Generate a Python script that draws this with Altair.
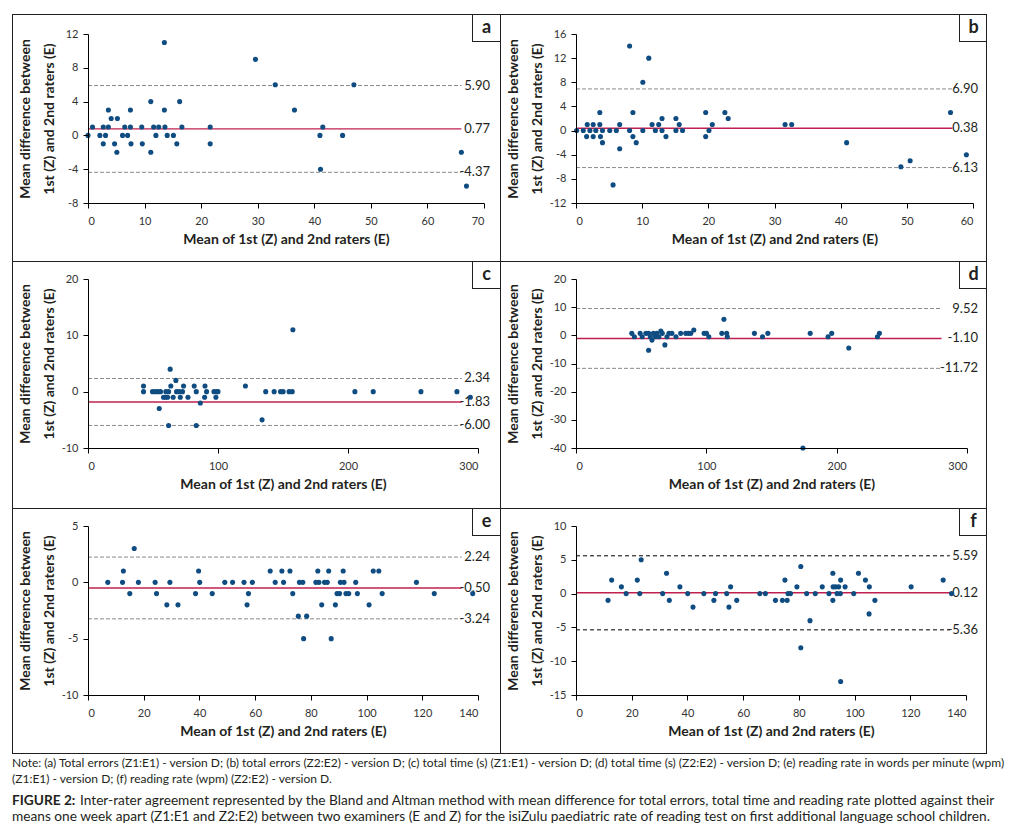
import altair as alt
import pandas as pd

FONT = "Lato"
PT_COLOR = "#0f4c81"
MEAN_COLOR = "#c0204f"
GRAY = "#8a8a8a"
INK = "#231f20"
H = 169

# ---------------- data ----------------
# (a) total errors Z1:E1
a_x = [0, 0.8, 2.1, 2.7, 2.7, 3.1, 3.6, 3.6, 4.1, 4.7, 5.2, 5.1, 6.1, 6.5, 7.0, 7.5, 7.5, 7.6, 9.5, 9.6,
       11.1, 11.1, 11.6, 12.0, 12.5, 13.5, 13.5, 13.6, 14.0, 15.1, 15.7, 16.2, 16.6, 21.6, 21.6, 29.6,
       33.1, 36.5, 41.0, 41.1, 41.5, 45.0, 47.0, 66.0, 66.9]
a_y = [0, 1, 0, 1, -1, 0, 3, 1, 2, -1, 2, -2, 0, 1, 0, 3, 1, -1, 1, -1,
       4, -2, 1, 0, 1, 11, 3, 1, 0, 0, -1, 4, 1, 1, -1, 9,
       6, 3, 0, -4, 1, 0, 6, -2, -6]
a_loa = [5.90, 0.77, -4.37]
a_lab = ["5.90", "0.77", "-4.37"]

# (b) total errors Z2:E2
b_x = [0.1, 1.1, 1.6, 1.7, 2.1, 2.6, 2.6, 3.0, 3.6, 3.6, 3.7, 4.0, 4.0, 5.1, 5.6, 6.1, 6.6, 6.6, 8.1, 8.1,
       8.6, 8.6, 9.1, 10.1, 10.1, 11.0, 11.5, 12.0, 12.5, 13.0, 13.0, 13.6, 15.1, 15.1, 15.6, 16.1, 19.6,
       19.6, 20.1, 20.6, 22.5, 23.0, 31.6, 32.6, 40.9, 49.1, 50.5, 56.6, 59.0]
b_y = [0, 0, -1, 1, 0, 1, -1, 0, 3, 1, -1, 0, -2, 0, -9, 0, -3, 1, 14, 0,
       3, -1, -2, 8, 0, 12, 1, 0, 1, 2, 0, -1, 2, 0, 1, 0, 3,
       -1, 0, 1, 3, 2, 1, 1, -2, -6, -5, 3, -4]
b_loa = [6.90, 0.38, -6.13]
b_lab = ["6.90", "0.38", "6.13"]

# (c) total time Z1:E1
c_x = [42.7, 42.7, 49.6, 51.7, 53.7, 55.8, 54.8, 58.1, 59.6, 61.2, 59.9, 62.0, 63.2, 63.7, 62.0, 65.5,
       67.6, 68.1, 70.2, 71.0, 72.7, 73.5, 76.9, 81.7, 83.3, 83.3, 86.4, 89.7, 90.0, 91.2, 96.9, 98.9,
       98.4, 100.0, 121.1, 133.9, 136.7, 143.2, 148.1, 150.1, 154.7, 157.1, 157.6, 205.3, 219.4, 256.1,
       283.8, 294.1]
c_y = [1, 0, 0, 0, 0, 0, -3, -1, -1, -1, 0, 0, 4, 1, -6, -1,
       2, 0, 0, -1, 0, 1, -1, 1, 0, -6, -2, -1, 1, 0, 0, 0,
       -1, 0, 1, -5, 0, 0, 0, 0, 0, 0, 11, 0, 0, 0,
       0, -1]
c_loa = [2.34, -1.83, -6.00]
c_lab = ["2.34", "-1.83", "-6.00"]

# (d) total time Z2:E2
d_x = [42.8, 44.8, 49.2, 50.8, 53.6, 55.7, 55.7, 57.0, 58.3, 59.4, 60.9, 62.0, 63.6, 65.1, 66.2, 68.2,
       69.8, 71.3, 73.6, 76.7, 80.3, 84.2, 86.2, 88.1, 90.4, 98.3, 100.1, 101.9, 111.9, 113.5, 115.6,
       116.1, 136.9, 143.1, 147.2, 174.1, 179.7, 193.4, 196.2, 209.3, 231.3, 232.8]
d_y = [0.7, -0.5, 0.7, -0.5, 0.7, 0.7, -5.3, -0.5, -1.7, 0.7, -0.5, 0.7, -0.5, 1.5, 0.7, -3.4,
       -0.5, 0.7, 0.7, -0.5, 0.7, 0.7, 0.7, 0.7, 1.9, 0.7, 0.7, -0.5, 0.7, 5.7, 0.7,
       -0.5, 0.7, -0.5, 0.7, -40, 0.7, -0.5, 0.7, -4.5, -0.5, 0.7]
d_loa = [9.52, -1.10, -11.72]
d_lab = ["9.52", "-1.10", "-11.72"]

# (e) reading rate wpm Z1:E1
e_x = [7.1, 12.4, 12.7, 15.0, 16.6, 18.1, 24.1, 24.6, 28.3, 29.4, 32.3, 38.6, 39.7, 40.1, 44.6, 49.1,
       51.9, 56.0, 57.1, 57.6, 59.0, 65.4, 67.2, 69.6, 70.2, 72.5, 73.5, 75.5, 75.9, 77.1, 77.4, 78.5,
       81.8, 82.5, 82.9, 83.9, 84.9, 85.9, 86.4, 87.3, 88.8, 89.4, 90.3, 90.6, 91.6, 91.9, 92.6, 93.6,
       96.1, 96.7, 100.9, 102.4, 104.4, 105.6, 117.9, 124.3, 138.1]
e_y = [0, 0, 1, -1, 3, 0, 0, -1, -2, 0, -2, -1, 1, 0, -1, 0,
       0, 0, -2, -1, 0, 1, 0, 1, 0, 1, -1, -3, 0, 0, -5, -3,
       0, 1, 0, -2, 0, 0, 1, -5, -2, -1, -1, 0, 1, 0, -1, -1,
       0, -1, -2, 1, 1, -1, 0, -1, -1]
e_loa = [2.24, -0.50, -3.24]
e_lab = ["2.24", "-0.50", "-3.24"]

# (f) reading rate wpm Z2:E2
f_x = [11.5, 12.8, 16.3, 18.0, 22.0, 22.9, 23.4, 31.1, 32.5, 33.5, 37.3, 40.1, 42.0, 45.9, 49.5, 50.1,
       54.1, 54.9, 55.5, 57.7, 66.0, 68.0, 71.6, 74.1, 75.0, 75.8, 76.1, 77.0, 79.3, 80.7, 80.7, 82.8,
       84.0, 85.9, 88.4, 90.8, 92.2, 92.2, 92.3, 93.2, 93.7, 94.3, 94.9, 95.0, 95.0, 96.6, 99.7, 101.4,
       103.9, 105.3, 105.2, 107.3, 120.3, 131.8, 134.8]
f_y = [-1, 2, 1, 0, 2, 0, 5, 0, 3, -1, 1, 0, -2, 0, -1, 0,
       0, -2, 1, -1, 0, 0, -1, -1, 2, -1, 0, 0, 1, 4, -8, 0,
       -4, 0, 1, 0, 3, -1, 1, 1, 0, 1, 0, 2, -13, 1, 0, 3,
       2, 1, -3, -1, 1, 2, 0]
f_loa = [5.59, 0.12, -5.36]
f_lab = ["5.59", "0.12", "-5.36"]

# extent of the reference lines along x (data units)
line_end = {"a": 66.0, "b": 56.9, "c": 287.4, "d": 280.5, "e": 134.1, "f": 134.2}

x_ticks = {"a": [0, 10, 20, 30, 40, 50, 60, 70], "b": [0, 10, 20, 30, 40, 50, 60],
           "c": [0, 100, 200, 300], "d": [0, 100, 200, 300],
           "e": [0, 20, 40, 60, 80, 100, 120, 140], "f": [0, 20, 40, 60, 80, 100, 120, 140]}
y_ticks = {"a": [-8, -4, 0, 4, 8, 12], "b": [-12, -8, -4, 0, 4, 8, 12, 16],
           "c": [-10, 0, 10, 20], "d": [-40, -30, -20, -10, 0, 10, 20],
           "e": [-10, -5, 0, 5], "f": [-15, -10, -5, 0, 5, 10]}

Y_TITLE = ["Mean difference between", "1st (Z) and 2nd raters (E)"]
X_TITLE = "Mean of 1st (Z) and 2nd raters (E)"

NOTE_1 = ("Note: (a) Total errors (Z1:E1) - version D; (b) total errors (Z2:E2) - version D; (c) total time (s) "
          "(Z1:E1) - version D; (d) total time (s) (Z2:E2) - version D; (e) reading rate in words per minute (wpm)")
NOTE_2 = "(Z1:E1) - version D; (f) reading rate (wpm) (Z2:E2) - version D."
FIG_BOLD = "FIGURE 2:"
FIG_1 = ("Inter-rater agreement represented by the Bland and Altman method with mean difference for total errors, "
         "total time and reading rate plotted against their")
FIG_2 = ("means one week apart (Z1:E1 and Z2:E2) between two examiners (E and Z) for the isiZulu paediatric rate "
         "of reading test on first additional language school children.")

NEG = "datum.value < 0 ? '-' + abs(datum.value) : '' + datum.value"
L = 76  # plot-area offset from the left edge of every cell


def box(color, x1, x2, y1, y2):
    return alt.Chart(pd.DataFrame({"k": [0]})).mark_rect(color=color).encode(
        x=alt.value(x1), x2=alt.value(x2), y=alt.value(y1), y2=alt.value(y2))


def panel(letter, xs, ys, loa, labs, W, R, T, B, right_col, bottom_row, black_loa=False):
    xt, yt = x_ticks[letter], y_ticks[letter]
    xsc = alt.Scale(domain=[xt[0], xt[-1]], nice=False, zero=False)
    ysc = alt.Scale(domain=[yt[0], yt[-1]], nice=False, zero=False)
    xax = alt.Axis(values=xt, title=X_TITLE, labelExpr=NEG, minExtent=24, maxExtent=24,
                   titlePadding=5, zindex=1, titleFontSize=14)
    yax = alt.Axis(values=yt, title=Y_TITLE, labelExpr=NEG, minExtent=24, maxExtent=24,
                   titlePadding=8, zindex=1, titleFontSize=14, titleLineHeight=24)
    pts = pd.DataFrame({"x": xs, "y": ys})
    lines = pd.DataFrame({"x": [0, 0, 0], "x1": [line_end[letter]] * 3, "y": loa, "lab": labs,
                          "kind": ["up", "mean", "low"]})

    layers = [box("white", -L, W + R, -T, H + B),
              box(INK, -L, W + R, -T, -T + 1),          # top edge
              box(INK, -L, -L + 1, -T, H + B)]          # left edge
    if right_col:
        layers.append(box(INK, W + R - 1, W + R, -T, H + B))
    if bottom_row:
        layers.append(box(INK, -L, W + R, H + B - 1, H + B))
    # letter box
    layers.append(box(INK, W + R - 28, W + R - 27, -T, -T + 28))
    layers.append(box(INK, W + R - 28, W + R, -T + 27, -T + 28))
    layers.append(alt.Chart(pd.DataFrame({"t": [letter]})).mark_text(
        fontSize=18, fontWeight="bold", color=INK, align="center", baseline="middle").encode(
        x=alt.value(W + R - 13.5), y=alt.value(-T + 13.5), text="t:N"))

    enc_x = alt.X("x:Q", scale=xsc, axis=xax)
    enc_y = alt.Y("y:Q", scale=ysc, axis=yax)
    layers.append(alt.Chart(lines[lines["kind"] != "mean"]).mark_rule(
        color="#000000" if black_loa else GRAY, strokeWidth=1,
        strokeDash=[4, 3] if black_loa else [4, 2]).encode(x=enc_x, x2="x1:Q", y=enc_y))
    layers.append(alt.Chart(lines[lines["kind"] == "mean"]).mark_rule(
        color=MEAN_COLOR, strokeWidth=1.4).encode(x=enc_x, x2="x1:Q", y=enc_y))
    layers.append(alt.Chart(lines).mark_text(align="right", baseline="middle", fontSize=13, color=INK).encode(
        x=alt.value(402), y=enc_y, text="lab:N"))
    layers.append(alt.Chart(pts).mark_circle(size=26, opacity=1, color=PT_COLOR).encode(x=enc_x, y=enc_y))
    return alt.layer(*layers).properties(width=W, height=H)


pa = panel("a", a_x, a_y, a_loa, a_lab, W=396, R=16, T=20, B=58, right_col=False, bottom_row=False)
pb = panel("b", b_x, b_y, b_loa, b_lab, W=397, R=14, T=20, B=58, right_col=True, bottom_row=False)
pc = panel("c", c_x, c_y, c_loa, c_lab, W=390, R=22, T=18, B=60, right_col=False, bottom_row=False)
pd_ = panel("d", d_x, d_y, d_loa, d_lab, W=391, R=20, T=18, B=60, right_col=True, bottom_row=False)
pe = panel("e", e_x, e_y, e_loa, e_lab, W=390, R=22, T=18, B=59, right_col=False, bottom_row=True)
pf = panel("f", f_x, f_y, f_loa, f_lab, W=390, R=21, T=18, B=59, right_col=True, bottom_row=True,
           black_loa=True)


def txt(s, x, y, size, weight="normal"):
    return alt.Chart(pd.DataFrame({"t": [s]})).mark_text(
        align="left", baseline="middle", fontSize=size, fontWeight=weight, color=INK).encode(
        x=alt.value(x), y=alt.value(y), text="t:N")


# caption rows share the column origin of the panels (plot-area left), hence the -L shift
caption = alt.layer(
    txt(NOTE_1, -L, 9, 12),
    txt(NOTE_2, -L, 25, 12),
    txt(FIG_BOLD, -L, 47, 13.7, "bold"),
    txt(FIG_1, -L + 68, 47, 13.7),
    txt(FIG_2, -L, 63, 13.7),
).properties(width=800, height=70)

chart = alt.vconcat(
    alt.hconcat(pa, pb, spacing=0),
    alt.hconcat(pc, pd_, spacing=0),
    alt.hconcat(pe, pf, spacing=0),
    caption,
    spacing=0,
).properties(
    padding={"left": 12, "top": 14, "right": 0, "bottom": 0}
).configure(font=FONT).configure_view(stroke=None).configure_axis(
    grid=False, domainColor="#000000", domainWidth=1, tickColor="#000000", tickSize=5,
    labelFontSize=11, labelColor="#333333", labelFont=FONT,
    titleFontSize=14, titleFontWeight="bold", titleColor=INK, titleFont=FONT,
).configure_axisX(labelPadding=7).configure_axisY(labelPadding=5)

chart.save("out.html", embed_options={"renderer": "svg", "actions": False})
